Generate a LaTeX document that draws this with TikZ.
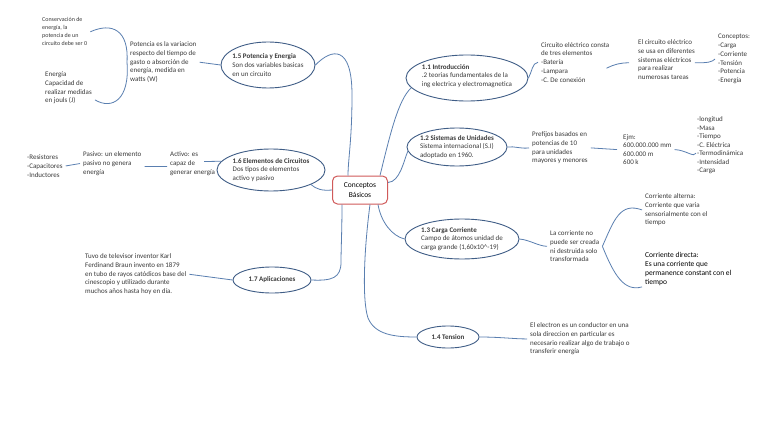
\documentclass[tikz,border=0pt]{standalone}
\usepackage{fontspec}
\setmainfont{Carlito}
\usetikzlibrary{shapes.geometric}
\definecolor{mapline}{HTML}{5A7FB0}
\definecolor{mapedge}{HTML}{3F5D86}
\definecolor{mapred}{HTML}{D05A5A}
\definecolor{maptext}{HTML}{3A3A3A}

\tikzset{
  txt/.style={align=left, anchor=north west, inner xsep=3pt, inner ysep=0pt, text=maptext, font=\fontsize{7}{8.8}\selectfont},
  ellip/.style 2 args={ellipse, draw=mapedge, line width=0.9pt, fill=white, minimum width=#1, minimum height=#2, inner sep=0pt},
  etxt/.style={align=left, inner sep=0pt, text=maptext, font=\fontsize{7}{8.8}\selectfont},
  link/.style={draw=mapline, line width=0.8pt},
}

\begin{document}
\begin{tikzpicture}[x=1pt,y=-1pt]
  \useasboundingbox (0,0) rectangle (768,433);
  \fill[white] (0,0) rectangle (768,433);
  % nodo central
  \node[draw=mapred, line width=1pt, rounded corners=5pt, minimum width=55pt, minimum height=28pt, align=center, font=\fontsize{7.5}{9.5}\selectfont] (cb) at (360,190) {Conceptos\\Básicos};
  % ramas (elipses)
  \node[ellip={94pt}{46pt}] (e15) at (268,65) {};
  \node[etxt] (l15) at (e15) {\textbf{1.5 Potencia y Energia}\\Son dos variables basicas\\en un circuito};
  \node[ellip={122pt}{46pt}] (e11) at (467,78) {};
  \node[etxt] (l11) at ([yshift=2pt]e11.center) {\textbf{1.1 Introducción}\\.2 teorias fundamentales de la\\ing electrica y electromagnetica};
  \node[ellip={100pt}{38pt}] (e12) at (457,147) {};
  \node[etxt] (l12) at (e12) {\textbf{1.2 Sistemas de Unidades}\\Sistema internacional (S.I)\\adoptado en 1960.};
  \node[ellip={108pt}{42pt}] (e16) at (271,170) {};
  \node[etxt] (l16) at (e16) {\textbf{1.6 Elementos de Circuitos}\\Dos tipos de elementos\\activo y pasivo};
  \node[ellip={114pt}{40pt}] (e13) at (462,239) {};
  \node[etxt] (l13) at (e13) {\textbf{1.3 Carga Corriente}\\Campo de átomos unidad de\\carga grande (1,60x10\textasciicircum-19)};
  \node[ellip={78pt}{26pt}] (e17) at (272,280) {};
  \node[etxt] (l17) at (e17) {\textbf{1.7 Aplicaciones}};
  \node[ellip={62pt}{22pt}] (e14) at (448,337) {};
  \node[etxt] (l14) at (e14) {\textbf{1.4 Tension}};
  % textos
  \node[txt, font=\fontsize{6}{8}\selectfont] (cons) at (39,17.5) {Conservación de\\energía, la\\potencia de un\\circuito debe ser 0};
  \node[txt] (ener) at (42,71.5) {Energía\\Capacidad de\\realizar medidas\\en jouls (J)};
  \node[txt] (pot) at (127,41.5) {Potencia es la variacion\\respecto del tiempo de\\gasto o absorción de\\energía, medida en\\watts (W)};
  \node[txt] (circ) at (538,42) {Circuito eléctrico consta\\de tres elementos\\-Batería\\-Lampara\\-C. De conexión};
  \node[txt] (usa) at (635,39.5) {El circuito eléctrico\\se usa en diferentes\\sistemas eléctricos\\para realizar\\numerosas tareas};
  \node[txt] (conc) at (715,34) {Conceptos:\\-Carga\\-Corriente\\-Tensión\\-Potencia\\-Energía};
  \node[txt] (pref) at (529,131.5) {Prefijos basados en\\potencias de 10\\para unidades\\mayores y menores};
  \node[txt, font=\fontsize{7}{8.3}\selectfont] (ejm) at (620,134.5) {Ejm:\\600.000.000 mm\\600.000 m\\600 k};
  \node[txt, font=\fontsize{7}{8.5}\selectfont] (mag) at (694,116.5) {-longitud\\-Masa\\-Tiempo\\-C. Eléctrica\\-Termodinámica\\-Intensidad\\-Carga};
  \node[txt] (res) at (24,154.5) {-Resistores\\-Capacitores\\-Inductores};
  \node[txt] (pas) at (80,151.5) {Pasivo: un elemento\\pasivo no genera\\energía};
  \node[txt] (act) at (167,151.5) {Activo: es\\capaz de\\generar energía};
  \node[txt] (tuvo) at (82,253.5) {Tuvo de televisor inventor Karl\\Ferdinand Braun invento en 1879\\en tubo de rayos catódicos base del\\cinescopio y utilizado durante\\muchos años hasta hoy en día.};
  \node[txt] (lacor) at (547,230.5) {La corriente no\\puede ser creada\\ni destruida solo\\transformada};
  \node[txt] (alt) at (642,193.5) {Corriente alterna:\\Corriente que varia\\sensorialmente con el\\tiempo};
  \node[txt, text=black, font=\fontsize{7.5}{9}\selectfont] (dir) at (642,252) {Corriente directa:\\Es una corriente que\\permanence constant con el\\tiempo};
  \node[txt] (elec) at (527,322.5) {El electron es un conductor en una\\sola direccion en particular es\\necesario realizar algo de trabajo o\\transferir energía};
  % conectores
  \draw[link] (pot.west) .. controls (129,30) and (112,22) .. (cons.east);
  \draw[link] (pot.west) .. controls (130,100) and (112,110) .. ([shift={(0,12)}]ener.east);
  \draw[link] (pot.east) -- (e15.west);
  \draw[link] (e15.east) .. controls (332,48) and (352,45) .. (352,95) .. controls (352,140) and (348,160) .. ([xshift=-12pt]cb.north);
  \draw[link] ([xshift=20pt]cb.north) .. controls (390,135) and (398,100) .. (e11.190);
  \draw[link] (e11.east) .. controls (532,72) and (532,63) .. (circ.west);
  \draw[link] ([shift={(-6,6)}]circ.east) .. controls (615,64) and (620,63) .. ([shift={(-6,3)}]usa.west);
  \draw[link] ([shift={(-3,3)}]usa.east) .. controls (708,63) and (712,62) .. (conc.west);
  \draw[link] (cb.15) .. controls (400,182) and (404,160) .. (e12.185);
  \draw[link] (e12.east) .. controls (515,146) and (520,149) .. (pref.west);
  \draw[link] (pref.east) -- ([xshift=-3pt]ejm.west);
  \draw[link] (ejm.east) .. controls (686,150) and (694,158) .. ([shift={(2,8)}]mag.west);
  \draw[link] (cb.west) .. controls (322,191) and (316,189) .. (e16.-20);
  \draw[link] ([shift={(-14,-2)}]act.east) -- (e16.170);
  \draw[link] ([yshift=-3pt]pas.east) -- ([yshift=-3pt]act.west);
  \draw[link] (res.east) -- (pas.west);
  \draw[link] ([xshift=-18pt]cb.south) .. controls (342,230) and (341,250) .. (341,262) .. controls (341,278) and (332,281) .. (e17.east);
  \draw[link] (tuvo.east) -- (e17.west);
  \draw[link] ([xshift=18pt]cb.south) .. controls (381,222) and (392,236) .. (e13.west);
  \draw[link] (e13.east) .. controls (530,240) and (538,246) .. (lacor.west);
  \draw[link] (lacor.east) .. controls (614,220) and (620,202) .. (alt.west);
  \draw[link] (lacor.east) .. controls (614,275) and (624,292) .. ([shift={(0,18)}]dir.west);
  \draw[link] ([xshift=10pt]cb.south) .. controls (364,250) and (362,300) .. (368,318) .. controls (375,335) and (395,337) .. (e14.west);
  \draw[link] (e14.east) .. controls (500,337) and (515,339) .. (elec.west);
\end{tikzpicture}
\end{document}
